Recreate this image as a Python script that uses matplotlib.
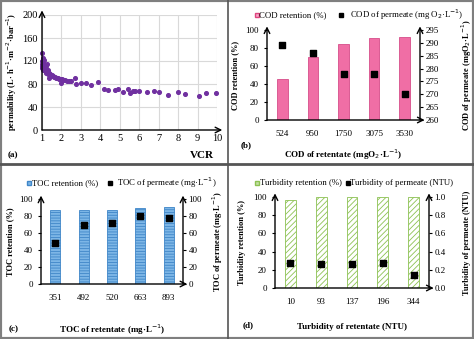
import numpy as np
import matplotlib.pyplot as plt
from matplotlib.lines import Line2D
from matplotlib.patches import Rectangle

plt.rcParams['font.family'] = ['Liberation Serif', 'DejaVu Serif']
plt.rcParams['hatch.linewidth'] = 0.6

# (a) permeability vs VCR
vcr = [1.00, 1.00, 1.00, 1.01, 1.02, 1.03, 1.04, 1.05, 1.06, 1.08, 1.10, 1.12,
       1.14, 1.16, 1.18, 1.20, 1.22, 1.25, 1.28, 1.30, 1.33, 1.35, 1.37, 1.40,
       1.45, 1.50, 1.55, 1.60, 1.65, 1.70, 1.75, 1.80, 1.85, 1.90, 1.95, 2.00,
       2.05, 2.10, 2.20, 2.30, 2.40, 2.50, 2.68, 2.76, 3.00, 3.25, 3.54, 3.90,
       4.20, 4.38, 4.77, 4.90, 5.15, 5.40, 5.55, 5.68, 5.80, 5.97, 6.40, 6.78,
       7.00, 7.50, 8.00, 8.35, 9.08, 9.45, 9.94]
perm = [134, 120, 112, 108, 115, 125, 118, 110, 105, 113, 122, 108,
        104, 110, 100, 112, 106, 102, 115, 98, 105, 90, 100, 98,
        96, 95, 94, 93, 92, 91, 90, 90, 89, 88, 88, 81,
        88, 87, 87, 86, 86, 85, 91, 80, 81, 81, 79, 84,
        71, 70, 70, 71, 66, 72, 65, 68, 68, 68, 66, 67,
        66, 61, 66, 63, 59, 65, 64]

# (b) COD
cod_labels = ['524', '950', '1750', '3075', '3530']
cod_ret = [45, 70, 84, 91, 92]
cod_perm = [289, 286, 278, 278, 270]

# (c) TOC
toc_labels = ['351', '492', '520', '663', '893']
toc_ret = [87, 87, 87, 89, 91]
toc_perm = [48, 69, 72, 80, 78]

# (d) Turbidity
tur_labels = ['10', '93', '137', '196', '344']
tur_ret = [97, 100, 100, 100, 100]
tur_perm = [0.27, 0.26, 0.26, 0.27, 0.14]

W, H = 474, 339
fig = plt.figure(figsize=(W / 100, H / 100), dpi=100)


def box(l, t, r, b):
    return [l / W, 1 - b / H, (r - l) / W, (b - t) / H]


def arrows(ax, right=False):
    for s in ax.spines.values():
        s.set_visible(False)
    kw = dict(arrowstyle='->', color='black', lw=1.0, shrinkA=0, shrinkB=0)
    ax.annotate('', xy=(0, 1.04), xytext=(0, 0), xycoords='axes fraction', arrowprops=kw)
    ax.annotate('', xy=(1.03, 0), xytext=(0, 0), xycoords='axes fraction', arrowprops=kw)
    if right:
        ax.annotate('', xy=(1, 1.04), xytext=(1, 0), xycoords='axes fraction', arrowprops=kw)


def ftext(x, y, s, **kw):
    fig.text(x / W, 1 - y / H, s, **kw)


def fmark(x, y, **kw):
    fig.add_artist(Line2D([x / W], [1 - y / H], transform=fig.transFigure, ls='none', **kw))


# ---- panel (a)
ax = fig.add_axes(box(42, 15, 217, 130))
ax.scatter(vcr, perm, s=7, color='#7030A0', zorder=3, clip_on=False)
ax.set_xlim(1, 10)
ax.set_ylim(0, 200)
ax.set_xticks(range(1, 11))
ax.set_yticks(range(0, 201, 40))
ax.grid(color='#d9d9d9', lw=0.8)
ax.tick_params(length=0, labelsize=7.5, pad=3)
arrows(ax)
ftext(12, 72, 'permability (L· h$^{-1}$·m$^{-2}$·bar$^{-1}$)', rotation=90,
      ha='center', va='center', fontsize=6, fontweight='bold')
ftext(8, 155, '(a)', fontsize=6.5, fontweight='bold', va='center')
ftext(214, 155, 'VCR', fontsize=8, fontweight='bold', va='center', ha='right')


def bar_panel(rect, labels, ret, perm_v, rlim, rticks, bar_kw, xlabel, lname, rname,
              ll_x, rl_x, lab_y, tag, tag_xy, leg):
    ax = fig.add_axes(box(*rect))
    x = np.arange(len(labels))
    ax.bar(x, ret, width=0.35, zorder=2, **bar_kw)
    ax.set_xlim(-0.5, 4.5)
    ax.set_ylim(0, 100)
    ax.set_yticks(range(0, 101, 20))
    ax.set_xticks(x)
    ax.set_xticklabels(labels)
    ax.tick_params(axis='y', length=2, labelsize=6.5, pad=4)
    ax.tick_params(axis='x', length=0, labelsize=6.5, pad=7)
    ax2 = ax.twinx()
    ax2.scatter(x, perm_v, marker='s', s=22, color='black', zorder=4)
    ax2.set_ylim(*rlim)
    ax2.set_yticks(rticks)
    ax2.tick_params(axis='y', length=2, labelsize=6.5, pad=2)
    for s in ax2.spines.values():
        s.set_visible(False)
    arrows(ax, right=True)
    cy = (rect[1] + rect[3]) / 2
    ftext(ll_x, cy, lname, rotation=90, ha='center', va='center', fontsize=6, fontweight='bold')
    ftext(rl_x, cy, rname, rotation=90, ha='center', va='center', fontsize=6, fontweight='bold')
    ftext((rect[0] + rect[2]) / 2, lab_y, xlabel, ha='center', va='center',
          fontsize=6.5, fontweight='bold')
    ftext(tag_xy[0], tag_xy[1], tag, fontsize=6.5, fontweight='bold', va='center')
    (m1x, t1x, n1, m2x, t2x, n2, ly, mk) = leg
    fmark(m1x, ly, **mk)
    ftext(t1x, ly, n1, fontsize=6.3, va='center')
    fmark(m2x, ly, marker='s', markersize=3.5, color='black')
    ftext(t2x, ly, n2, fontsize=6.3, va='center')
    return ax


bar_panel((267, 30, 420, 120), cod_labels, cod_ret, cod_perm, (260, 295), range(260, 296, 5),
          dict(color='#F06EA5', edgecolor='#D64D8A', lw=0.6),
          'COD of retentate (mgO$_2$·L$^{-1}$)', 'COD retention (%)',
          'COD of permeate (mgO$_2$·L$^{-1}$)', 235, 467, 155, '(b)', (241, 145),
          (257, 259, 'COD retention (%)', 341, 350, 'COD of permeate (mg O$_2$·L$^{-1}$)', 15,
           dict(marker='s', markersize=3.5, markerfacecolor='#F7A8C8', markeredgecolor='#E0447F')))

bar_panel((41, 199, 183, 284), toc_labels, toc_ret, toc_perm, (0, 100), range(0, 101, 20),
          dict(color='#7DB6E6', edgecolor='#3F86C8', hatch='------', lw=0.6),
          'TOC of retentate (mg·L$^{-1}$)', 'TOC retention (%)',
          'TOC of permeate (mg·L$^{-1}$)', 10, 218, 330, '(c)', (9, 329),
          (29, 32, 'TOC retention (%)', 110, 117, 'TOC of permeate (mg·L$^{-1}$)', 183,
           dict(marker='s', markersize=3.5, markerfacecolor='#7DB6E6', markeredgecolor='#3F86C8')))

bar_panel((275, 197, 429, 288), tur_labels, tur_ret, tur_perm, (0, 1),
          [0, 0.2, 0.4, 0.6, 0.8, 1],
          dict(color='white', edgecolor='#8CC152', hatch='//////', lw=0.6),
          'Turbidity of retentate (NTU)', 'Turbidity retention (%)',
          'Turbidity of permeate (NTU)', 242, 467, 327, '(d)', (243, 325),
          (257, 260, 'Turbidity retention (%)', 348, 350, 'Turbidity of permeate (NTU)', 183,
           dict(marker='s', markersize=3.5, markerfacecolor='#C5E0A5', markeredgecolor='#8CC152')))

# frame and dividers
fig.add_artist(Rectangle((0, 0), 1, 1, transform=fig.transFigure, fill=False,
                         edgecolor='#7f7f7f', lw=3))
fig.add_artist(Line2D([228 / W, 228 / W], [0, 1], transform=fig.transFigure,
                      color='#555555', lw=1.2))
fig.add_artist(Line2D([0, 1], [1 - 164 / H, 1 - 164 / H], transform=fig.transFigure,
                      color='#555555', lw=2.0))

fig.savefig('out.png', dpi=100)
